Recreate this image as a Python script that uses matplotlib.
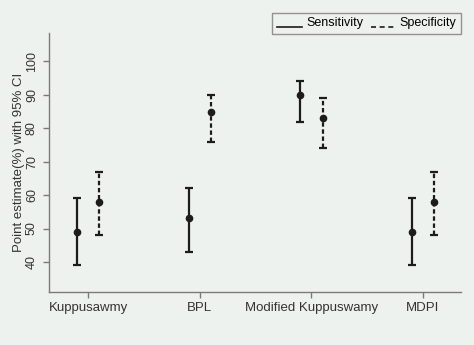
import numpy as np
import matplotlib
matplotlib.use("Agg")
import matplotlib.pyplot as plt
from matplotlib.lines import Line2D
from matplotlib.legend_handler import HandlerLine2D

plt.rcParams['font.family'] = ['Liberation Sans', 'DejaVu Sans']

# 各量表的点估计及95%置信区间
scales = ["Kuppusawmy", "BPL", "Modified Kuppuswamy", "MDPI"]
sens_est = [49, 53, 90, 49]
sens_low = [39, 43, 82, 39]
sens_high = [59, 62, 94, 59]
spec_est = [58, 85, 83, 58]
spec_low = [48, 76, 74, 48]
spec_high = [67, 90, 89, 67]

bg = "#eef2ee"
ink = "#1c1c1c"
grey = "#7a7a7a"


# 图例线条画在文字基线附近
class LowLine(HandlerLine2D):
    def create_artists(self, legend, orig_handle, xdescent, ydescent,
                       width, height, fontsize, trans):
        arts = super().create_artists(legend, orig_handle, xdescent, ydescent,
                                      width, height, fontsize, trans)
        for a in arts:
            y = np.asarray(a.get_ydata(), dtype=float)
            a.set_ydata(y - height * 0.6)
        return arts


fig = plt.figure(figsize=(4.74, 3.45), dpi=100, facecolor=bg)
ax = fig.add_axes([49 / 474, 1 - 292 / 345, (461 - 49) / 474, (292 - 33) / 345])
ax.set_facecolor(bg)

x = np.arange(1, len(scales) + 1)
sens_est = np.array(sens_est)
spec_est = np.array(spec_est)
sens_err = [sens_est - np.array(sens_low), np.array(sens_high) - sens_est]
spec_err = [spec_est - np.array(spec_low), np.array(spec_high) - spec_est]

eb1 = ax.errorbar(x - 0.1, sens_est, yerr=sens_err, fmt='o', color=ink,
                  ms=4.5, elinewidth=1.6, capsize=3, capthick=1.6)
eb2 = ax.errorbar(x + 0.1, spec_est, yerr=spec_err, fmt='o', color=ink,
                  ms=4.5, elinewidth=1.6, capsize=3, capthick=1.6)
eb2[2][0].set_linestyle((0, (2, 1.2)))

ax.set_xlim(0.65, 4.34)
ax.set_ylim(31, 108.5)
ax.set_xticks(x)
ax.set_xticklabels(scales)
ax.set_yticks(np.arange(40, 101, 10))
ax.tick_params(axis='y', labelrotation=90, labelsize=9, colors=grey,
               labelcolor="#333333", length=4, width=1, pad=4)
ax.tick_params(axis='x', labelsize=9.5, colors=grey,
               labelcolor="#333333", length=4, width=1)
for lab in ax.get_yticklabels():
    lab.set_va('center')
ax.set_ylabel("Point estimate(%) with 95% CI", fontsize=9.5, color="#333333")
ax.yaxis.set_label_coords(-0.058, 0.5)

for s in ['top', 'right']:
    ax.spines[s].set_visible(False)
for s in ['left', 'bottom']:
    ax.spines[s].set_color(grey)
    ax.spines[s].set_linewidth(1)

handles = [Line2D([], [], color=ink, lw=1.2),
           Line2D([], [], color=ink, lw=1.2, ls=(0, (3, 2.2)))]
leg = fig.legend(handles, ["Sensitivity", "Specificity"], ncol=2,
                 loc='upper right', bbox_to_anchor=(461 / 474, 1 - 13 / 345),
                 borderaxespad=0, fontsize=9, frameon=True, fancybox=False,
                 handlelength=2.0, columnspacing=0.6, handletextpad=0.35,
                 borderpad=0.35, handler_map={Line2D: LowLine()})
leg.get_frame().set_edgecolor(grey)
leg.get_frame().set_facecolor(bg)
leg.get_frame().set_linewidth(1)

fig.savefig("out.png", dpi=100, facecolor=bg)
